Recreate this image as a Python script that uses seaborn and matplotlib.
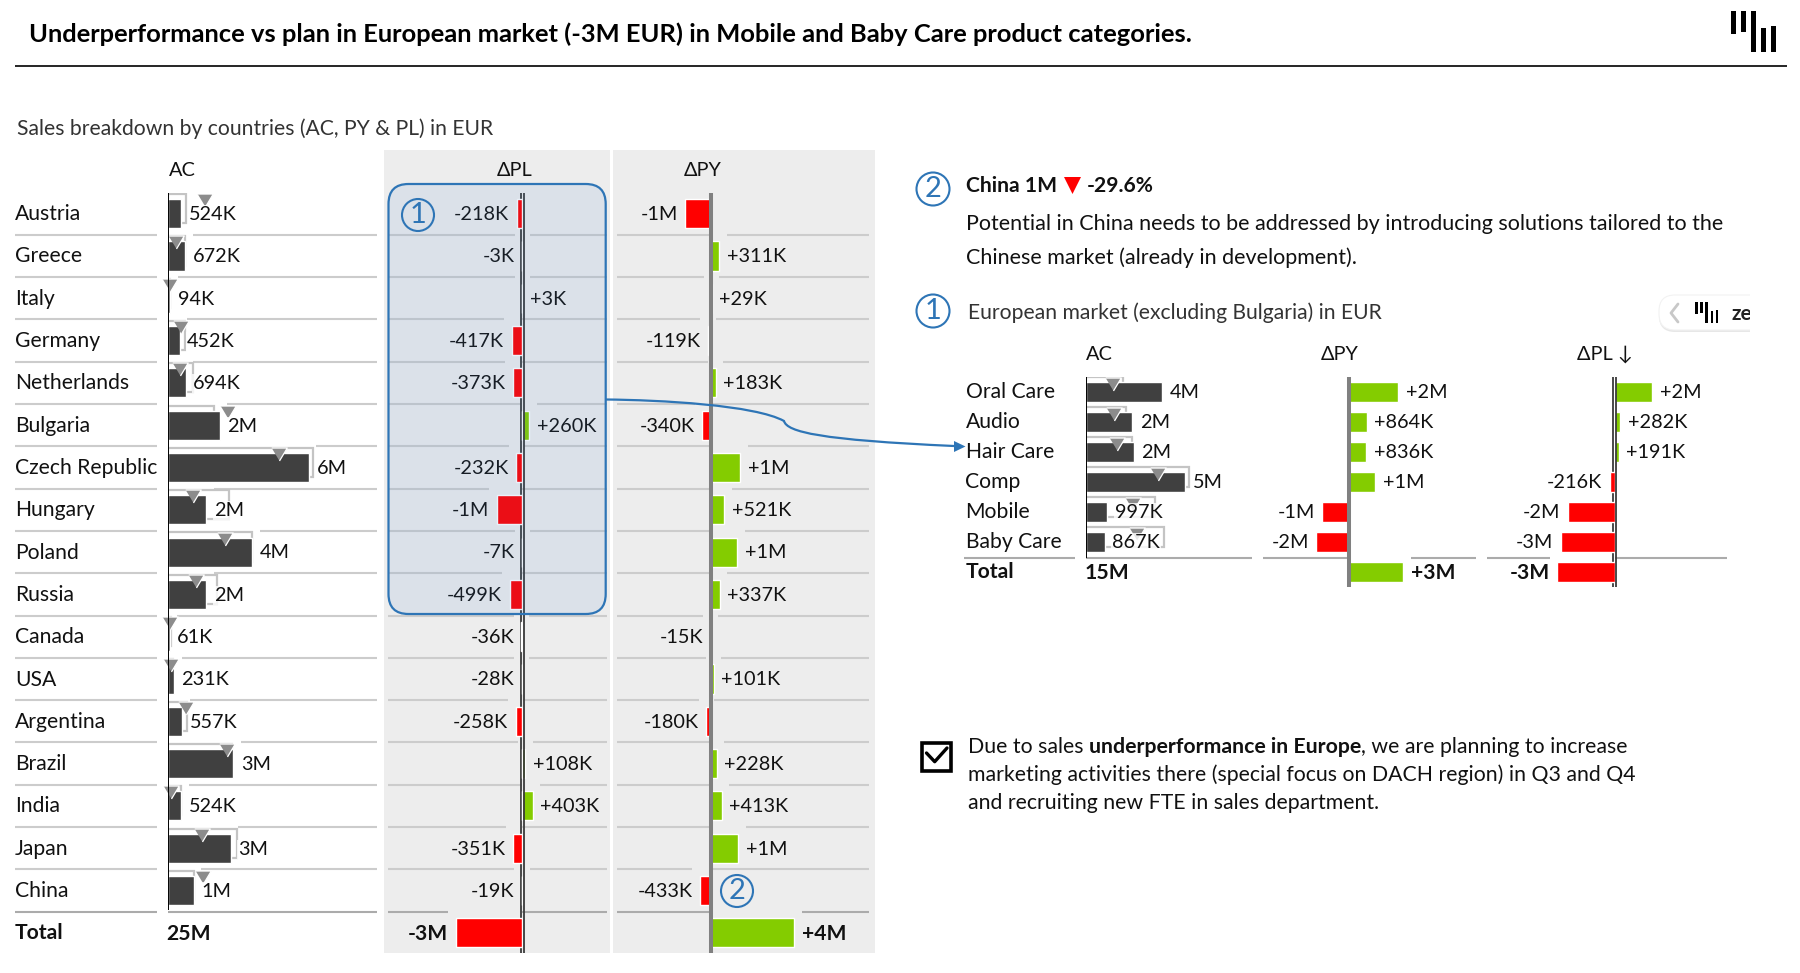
import numpy as np
import pandas as pd
import matplotlib.pyplot as plt
import seaborn as sns
from matplotlib.patches import Rectangle, FancyBboxPatch, Circle, PathPatch, Polygon
from matplotlib.path import Path
from matplotlib.transforms import Bbox, TransformedBbox

# values in million EUR
countries = ['Austria', 'Greece', 'Italy', 'Germany', 'Netherlands', 'Bulgaria', 'Czech Republic', 'Hungary',
             'Poland', 'Russia', 'Canada', 'USA', 'Argentina', 'Brazil', 'India', 'Japan', 'China']
ac_values = [0.524, 0.672, 0.094, 0.452, 0.694, 2.02, 5.5, 1.5, 3.3, 1.5, 0.061, 0.231, 0.557, 2.55, 0.524, 2.45, 1.0]
ac_labels = ['524K', '672K', '94K', '452K', '694K', '2M', '6M', '2M', '4M', '2M', '61K', '231K', '557K', '3M',
             '524K', '3M', '1M']
ac_plan = [0.72, 0.66, 0.09, 0.67, 0.97, 1.8, 5.68, 2.4, 3.3, 1.9, 0.1, 0.2, 0.75, 2.5, 0.5, 2.7, 1.0]
ac_prev = [1.43, 0.33, 0.06, 0.49, 0.45, 2.35, 4.35, 0.97, 2.24, 1.09, 0.06, 0.1, 0.69, 2.29, 0.12, 1.32, 1.38]
ac_total = '25M'

dpl_values = [-0.218, -0.003, 0.003, -0.417, -0.373, 0.26, -0.232, -1.0, -0.007, -0.499, -0.036, -0.028, -0.258,
              0.108, 0.403, -0.351, -0.019, -2.6]
dpl_labels = ['-218K', '-3K', '+3K', '-417K', '-373K', '+260K', '-232K', '-1M', '-7K', '-499K', '-36K', '-28K',
              '-258K', '+108K', '+403K', '-351K', '-19K', '-3M']
dpy_values = [-1.0, 0.311, 0.029, -0.119, 0.183, -0.34, 1.15, 0.521, 1.03, 0.337, -0.015, 0.101, -0.18, 0.228,
              0.413, 1.07, -0.433, 3.25]
dpy_labels = ['-1M', '+311K', '+29K', '-119K', '+183K', '-340K', '+1M', '+521K', '+1M', '+337K', '-15K', '+101K',
              '-180K', '+228K', '+413K', '+1M', '-433K', '+4M']

products = ['Oral Care', 'Audio', 'Hair Care', 'Comp', 'Mobile', 'Baby Care']
prod_ac = [3.62, 2.17, 2.26, 4.69, 0.997, 0.867]
prod_ac_labels = ['4M', '2M', '2M', '5M', '997K', '867K']
prod_plan = [1.76, 1.9, 2.17, 4.9, 3.26, 3.7]
prod_prev = [1.26, 1.33, 1.47, 3.43, 2.24, 2.4]
prod_ac_total = '15M'
prod_dpy = [2.36, 0.864, 0.836, 1.26, -1.24, -1.53, 2.6]
prod_dpy_labels = ['+2M', '+864K', '+836K', '+1M', '-1M', '-2M', '+3M']
prod_dpl = [1.8, 0.282, 0.191, -0.216, -2.2, -2.57, -2.72]
prod_dpl_labels = ['+2M', '+282K', '+191K', '-216K', '-2M', '-3M', '-3M']

DARK = '#404040'
RED = '#FF0000'
GREEN = '#84CC00'
BLUE = '#2E75B6'
GRID = '#CCCCCC'
FS = 15.2     # running text and category names
LS = 14.3     # data labels
BS = 15.2     # bold totals
W, H = 1800, 973
OFF = 7.6  # px between bar end and its label

sns.set_theme(style='white')
plt.rcParams['font.family'] = ['Lato', 'DejaVu Sans']
plt.rcParams['text.color'] = '#111111'

fig = plt.figure(figsize=(W / 100, H / 100), dpi=100)

# px coordinate layers, below and above the charts
bg = fig.add_axes([0, 0, 1, 1], zorder=0)
ov = fig.add_axes([0, 0, 1, 1], zorder=5)
for a in (bg, ov):
    a.set_xlim(0, W)
    a.set_ylim(H, 0)
    a.axis('off')
    a.patch.set_alpha(0)


def panel(left, right, top, bottom, zero, scale, row0, pitch):
    ax = fig.add_axes([left / W, 1 - bottom / H, (right - left) / W, (bottom - top) / H], zorder=2)
    ax.patch.set_alpha(0)
    ax.limits = ((left - zero) / scale, (right - zero) / scale, (bottom - row0) / pitch, (top - row0) / pitch)
    return ax


def finish(ax):
    ax.set_xlim(ax.limits[0], ax.limits[1])
    ax.set_ylim(ax.limits[2], ax.limits[3])
    ax.axis('off')


def ac_chart(ax, values, labels, plan, prev, scale, shift, tri_y, bar_w, sep_rows, tri_size):
    rows = np.arange(len(values))
    ax.barh(rows - shift, plan, height=bar_w, color='white', edgecolor='#C4C4C4', linewidth=1.6, zorder=1)
    sns.barplot(x=values, y=rows, orient='y', native_scale=True, color=DARK, saturation=1, width=bar_w, ax=ax,
                zorder=2)
    sns.scatterplot(x=prev, y=rows - tri_y, marker=[(-6, 5), (6, 5), (0, -5)], s=tri_size, color='#8C8C8C',
                    edgecolor='white', linewidth=0.9, ax=ax, zorder=3, legend=False, clip_on=False)
    for i, (v, lab) in enumerate(zip(values, labels)):
        ax.annotate(lab, (v, i), xytext=(OFF * 0.72, -0.6), textcoords='offset points', va='center', ha='left',
                    fontsize=LS, zorder=4,
                    bbox=dict(boxstyle='square,pad=0.05', fc='white', ec='none', alpha=0.8))
        if i in sep_rows:
            ax.hlines(i - 0.5, v + OFF / scale, ax.limits[1], color=GRID, lw=1.5, zorder=0)


def delta_chart(ax, values, labels, scale, bar_w, sep_rows, sep_y=None):
    rows = np.arange(len(values))
    df = pd.DataFrame({'value': values, 'row': rows, 'sign': ['up' if v > 0 else 'down' for v in values]})
    sns.barplot(data=df, x='value', y='row', hue='sign', palette={'up': GREEN, 'down': RED}, orient='y',
                native_scale=True, dodge=False, saturation=1, width=bar_w, legend=False, ax=ax, zorder=2)
    for i, (v, lab) in enumerate(zip(values, labels)):
        last = i == len(values) - 1
        ha = 'left' if v > 0 else 'right'
        sign = 1 if v > 0 else -1
        ax.annotate(lab, (v, i), xytext=(sign * OFF * 0.72, -0.6), textcoords='offset points', va='center', ha=ha,
                    fontsize=BS if last else LS, fontweight='bold' if last else 'normal', zorder=4)
        if i in sep_rows:
            y = i - 0.5 if sep_y is None or not last else sep_y
            ax.hlines(y, ax.limits[0], min(0, v - OFF / scale), color=GRID if not last else '#ABABAB', lw=1.5, zorder=0)
            ax.hlines(y, max(0, v + OFF / scale), ax.limits[1], color=GRID if not last else '#ABABAB', lw=1.5, zorder=0)


def double_axis(ax, scale):
    # plan axis: two dark lines, the left one behind the bars
    ax.axvline(-1.8 / scale, color='#3A3A3A', lw=1.3, zorder=1)
    ax.axvline(1.8 / scale, color='#3A3A3A', lw=1.3, zorder=3)


def logo(x0, y0, k, axes=ov):
    lefts = [0, 10, 20, 30, 40]
    tops = [0, 0, 0, 17, 15]
    bottoms = [23, 21, 41, 41, 41]
    for x, t, b in zip(lefts, tops, bottoms):
        axes.add_patch(Rectangle((x0 + x * k, y0 + t * k), 5 * k, (b - t) * k, color='black', lw=0))


def circled(x, y, s, r=16.5, size=21):
    ov.add_patch(Circle((x, y), r, fill=False, ec=BLUE, lw=1.5, zorder=6))
    ov.text(x, y, s, color=BLUE, fontsize=size, ha='center', va='center', zorder=6)


def rich_line(x, y, parts, size):
    rend = fig.canvas.get_renderer()
    for s, weight in parts:
        t = ov.text(x, y, s, fontsize=size, fontweight=weight, ha='left', va='center')
        x += t.get_window_extent(rend).width


# grey panels
bg.add_patch(Rectangle((384, 150), 226, 803, color='#EDEDED', lw=0))
bg.add_patch(Rectangle((613, 150), 262, 803, color='#EDEDED', lw=0))

# ---------------------------------------------------------- by country
ROW0, PITCH, SCALE = 213.7, 42.3, 25.6
ax_ac = panel(168, 376.6, 193, 953, 168, SCALE, ROW0, PITCH)
ac_chart(ax_ac, ac_values, ac_labels, ac_plan, ac_prev, SCALE, 0.12, 0.32, 0.69, range(1, 17), 125)
ax_ac.hlines(16.5, 0, ax_ac.limits[1], color='#ABABAB', lw=1.5, zorder=0)
ax_ac.vlines(0, ax_ac.limits[3], 16.45, color='black', lw=1.4, zorder=3)
ax_ac.annotate(ac_total, (0, 17), xytext=(-1.5, -0.6), textcoords='offset points', va='center', ha='left',
               fontsize=BS, fontweight='bold')
finish(ax_ac)

ax_pl = panel(388, 607, 193, 953, 522.4, SCALE, ROW0, PITCH)
delta_chart(ax_pl, dpl_values, dpl_labels, SCALE, 0.69, range(1, 18))
double_axis(ax_pl, SCALE)
finish(ax_pl)

ax_py = panel(617, 869, 193, 953, 711, SCALE, ROW0, PITCH)
delta_chart(ax_py, dpy_values, dpy_labels, SCALE, 0.69, range(1, 18))
ax_py.axvline(0, color='#808080', lw=2.9, zorder=3)
finish(ax_py)

for name, y in zip(countries + ['Total'], ROW0 + PITCH * np.arange(18)):
    ov.text(15, y + 0.5, name, fontsize=BS if name == 'Total' else FS, va='center',
            fontweight='bold' if name == 'Total' else 'normal')
for i in range(1, 18):
    ov.hlines(ROW0 + PITCH * (i - 0.5), 14.5, 157, color=GRID if i < 17 else '#ABABAB', lw=1.5)

ov.text(169, 170.5, 'AC', fontsize=LS, va='center')
ov.text(515, 170.5, 'ΔPL', fontsize=LS, va='center', ha='center')
ov.text(703, 170.5, 'ΔPY', fontsize=LS, va='center', ha='center')

# ---------------------------------------------------------- by product
ROW1, PITCH1, SCALE1 = 391.7, 30, 21
ax_ac2 = panel(1086.4, 1252, 377, 587, 1086.4, SCALE1, ROW1, PITCH1)
ac_chart(ax_ac2, prod_ac, prod_ac_labels, prod_plan, prod_prev, SCALE1, 0.15, 0.27, 0.667, [], 125)
ax_ac2.hlines(5.55, 0, ax_ac2.limits[1], color='#ABABAB', lw=1.5, zorder=0)
ax_ac2.vlines(0, ax_ac2.limits[3], 5.55, color='black', lw=1.4, zorder=3)
ax_ac2.annotate(prod_ac_total, (0, 6), xytext=(-1.5, -0.6), textcoords='offset points', va='center', ha='left',
                fontsize=BS, fontweight='bold')
finish(ax_ac2)

ax_py2 = panel(1263, 1475.5, 377, 587, 1348.5, SCALE1, ROW1, PITCH1)
delta_chart(ax_py2, prod_dpy, prod_dpy_labels, SCALE1, 0.667, [6], sep_y=5.55)
ax_py2.axvline(0, color='#808080', lw=2.9, zorder=3)
finish(ax_py2)

ax_pl2 = panel(1487, 1727, 377, 587, 1614.5, SCALE1, ROW1, PITCH1)
delta_chart(ax_pl2, prod_dpl, prod_dpl_labels, SCALE1, 0.667, [6], sep_y=5.55)
double_axis(ax_pl2, SCALE1)
finish(ax_pl2)

for name, y in zip(products + ['Total'], ROW1 + PITCH1 * np.arange(7)):
    ov.text(965.5, y, name, fontsize=BS if name == 'Total' else FS, va='center',
            fontweight='bold' if name == 'Total' else 'normal')
ov.hlines(558, 964, 1075, color='#ABABAB', lw=1.5)
ov.text(1086, 354.5, 'AC', fontsize=LS, va='center')
ov.text(1340, 354.5, 'ΔPY', fontsize=LS, va='center', ha='center')
ov.text(1577, 354.5, 'ΔPL ↓', fontsize=LS, va='center', ha='left')

# ---------------------------------------------------------- texts
ov.text(29, 34.5, 'Underperformance vs plan in European market (-3M EUR) in Mobile and Baby Care product categories.',
        fontsize=18.35, fontweight='bold', va='center', color='black')
ov.hlines(65.7, 15, 1787, color='black', lw=1.2)
logo(1731, 11, 1.0)
ov.text(17, 129, 'Sales breakdown by countries (AC, PY & PL) in EUR', fontsize=FS, va='center', color='#333333')

# highlight box over the plan deltas
ov.add_patch(FancyBboxPatch((388.5, 184), 217.2, 430, boxstyle='round,pad=0,rounding_size=20',
                            fc=(0.29, 0.525, 0.816, 0.11), ec=BLUE, lw=1.6))
circled(418, 215, '1', r=16)
circled(737, 891, '2', r=16)
circled(933, 189, '2')
circled(933, 311, '1')

# connector from the box to the product table
conn = Path([(606, 399.5), (660, 400), (755, 405), (784, 421), (787, 432), (820, 440), (954, 446)],
            [Path.MOVETO] + [Path.CURVE4] * 6)
ov.add_patch(PathPatch(conn, fill=False, ec=BLUE, lw=1.6, zorder=6))
ov.add_patch(Polygon([(954, 441), (965.5, 446.5), (954, 452)], color=BLUE, lw=0, zorder=6))

ov.text(965.5, 186, 'China 1M', fontsize=BS, fontweight='bold', va='center')
ov.add_patch(Polygon([(1064, 177), (1081, 177), (1072.5, 194)], color=RED, lw=0))
ov.text(1087, 186, '-29.6%', fontsize=BS, fontweight='bold', va='center')
ov.text(965.5, 224, 'Potential in China needs to be addressed by introducing solutions tailored to the',
        fontsize=15.5, va='center')
ov.text(965.5, 258, 'Chinese market (already in development).', fontsize=15.5, va='center')
ov.text(968, 313, 'European market (excluding Bulgaria) in EUR', fontsize=FS, va='center', color='#333333')

# pill cut off at the right
clip = TransformedBbox(Bbox([[1650, 285], [1750, 340]]), ov.transData)
shadow = FancyBboxPatch((1659, 297), 200, 35, boxstyle='round,pad=0,rounding_size=16', fc='#DDDDDD', ec='none', alpha=0.7)
pill = FancyBboxPatch((1659, 295), 200, 35, boxstyle='round,pad=0,rounding_size=16', fc='white', ec='#F2F2F2', lw=0.8)
for p in (shadow, pill):
    ov.add_patch(p)
    p.set_clip_box(clip)
ov.plot([1678, 1671, 1678], [304, 313, 322], color='#C8C8C8', lw=2)
logo(1695, 302, 0.52)
ze = ov.text(1731, 314, 'zebra', fontsize=15, fontweight='bold', va='center', color='#222222')
ze.set_clip_box(clip)
ze.set_clip_on(True)

# checkbox and closing note
ov.add_patch(Rectangle((921.7, 742.5), 29, 28, fill=False, ec='black', lw=2.6))
ov.plot([926.5, 934.7, 947], [753, 761.7, 748], color='black', lw=2.4)
rich_line(968, 747, [('Due to sales ', 'normal'), ('underperformance in Europe', 'bold'),
                     (', we are planning to increase', 'normal')], 15.3)
ov.text(968, 775, 'marketing activities there (special focus on DACH region) in Q3 and Q4', fontsize=15.3, va='center')
ov.text(968, 803, 'and recruiting new FTE in sales department.', fontsize=15.3, va='center')

plt.savefig('out.png', dpi=100)
